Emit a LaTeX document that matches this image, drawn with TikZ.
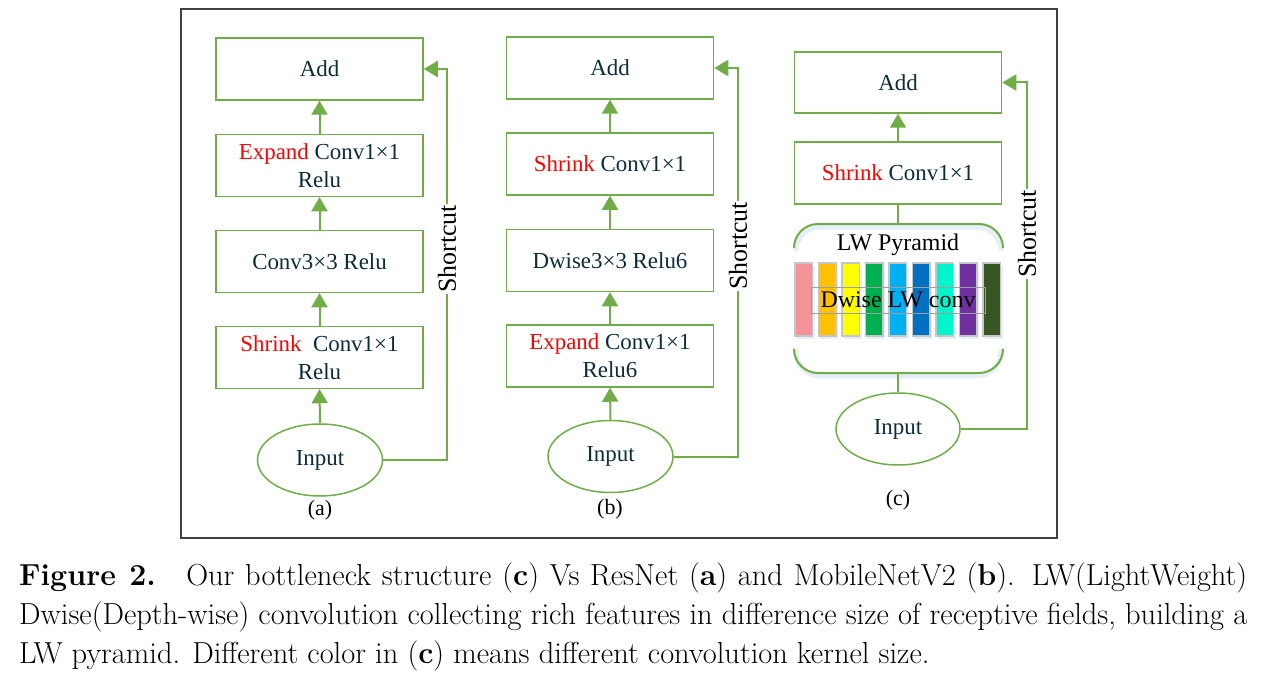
\documentclass[tikz,border=0pt]{standalone}
\usepackage{fontspec}
\newfontfamily\tnr{Liberation Serif}
\usetikzlibrary{arrows.meta,shapes.geometric}
\definecolor{grn}{HTML}{70AD47}
\definecolor{txt}{HTML}{0B2D3A}
\definecolor{frm}{HTML}{404040}
\definecolor{b1}{HTML}{F4939A}
\definecolor{b2}{HTML}{FFC000}
\definecolor{b3}{HTML}{FFFF00}
\definecolor{b4}{HTML}{00B050}
\definecolor{b5}{HTML}{00B0F0}
\definecolor{b6}{HTML}{0070C0}
\definecolor{b7}{HTML}{00F5CC}
\definecolor{b8}{HTML}{7030A0}
\definecolor{b9}{HTML}{375623}
\definecolor{glow}{HTML}{E6EFF8}
\begin{document}
\begin{tikzpicture}[x=1bp,y=-1bp,
  box/.style={draw=grn, line width=1.5bp, minimum width=207bp, minimum height=62bp, align=center, text=txt, font=\tnr\fontsize{23}{28}\selectfont, inner sep=0pt},
  inp/.style={ellipse, draw=grn, line width=1.5bp, minimum width=125bp, minimum height=72bp, text=txt, font=\tnr\fontsize{23}{27}\selectfont, inner sep=0pt},
  arr/.style={draw=grn, line width=2bp, -{Triangle[width=16bp,length=14bp]}},
  ln/.style={draw=grn, line width=2bp},
  sc/.style={rotate=90, fill=white, font=\tnr\fontsize{26}{30}\selectfont, inner sep=1.5bp},
  lab/.style={font=\tnr\fontsize{22}{26}\selectfont, inner sep=0pt},
  captxt/.style={anchor=base west, inner sep=0pt, font=\fontsize{30.5}{36}\selectfont}]
\useasboundingbox[fill=white] (0,0) rectangle (1269,677);
\draw[frm, line width=1.3bp] (181,9) rectangle (1057,538);

% ---------------- (a)
\node[box] (aadd) at (319.5,69) {Add};
\node[box] (aexp) at (319.5,165.5) {\textcolor{red}{Expand} Conv1×1\\Relu};
\node[box] (aconv) at (319.5,261.5) {Conv3×3 Relu};
\node[box] (ashr) at (319.5,357.5) {\textcolor{red}{Shrink}~ Conv1×1\\Relu};
\node[inp] (ain) at (320,460) {Input};
\draw[arr] (ain.north) -- (ashr.south);
\draw[arr] (ashr.north) -- (aconv.south);
\draw[arr] (aconv.north) -- (aexp.south);
\draw[arr] (aexp.north) -- (aadd.south);
\coordinate (ac) at (447,300);
\draw[arr] (ain.east) -| (ac) |- (aadd.east);
\node[sc] (asc) at (447,249) {Shortcut};
\node[lab] (alab) at (320,510) {(a)};

% ---------------- (b)
\node[box] (badd) at (610,68) {Add};
\node[box] (bshr) at (610,164) {\textcolor{red}{Shrink} Conv1×1};
\node[box] (bdw) at (610,260.5) {Dwise3×3 Relu6};
\node[box] (bexp) at (610,356) {\textcolor{red}{Expand} Conv1×1\\Relu6};
\node[inp] (bin) at (610.5,456.5) {Input};
\draw[arr] (bin.north) -- (bexp.south);
\draw[arr] (bexp.north) -- (bdw.south);
\draw[arr] (bdw.north) -- (bshr.south);
\draw[arr] (bshr.north) -- (badd.south);
\coordinate (bc) at (738,300);
\draw[arr] (bin.east) -| (bc) |- (badd.east);
\node[sc] (bsc) at (738,246) {Shortcut};
\node[lab] (blab) at (610,509) {(b)};

% ---------------- (c)
\node[box, minimum height=61bp] (cadd) at (898,82.5) {Add};
\node[box] (cshr) at (898,173) {\textcolor{red}{Shrink} Conv1×1};
\coordinate (ptop) at (898,224);
\coordinate (pbot) at (898,373);
% glow
\draw[glow, line width=5bp, rounded corners=24bp, line cap=round] (796,251) -- (796,227) -- (1001,227) -- (1001,251);
\draw[glow, line width=5bp, rounded corners=24bp, line cap=round] (796,351) -- (796,376) -- (1001,376) -- (1001,351);
\draw[ln, rounded corners=24bp] (794,248) -- (794,224) -- (1003,224) -- (1003,248);
\draw[ln, rounded corners=24bp] (794,349) -- (794,373) -- (1003,373) -- (1003,349);
\node[font=\tnr\fontsize{24}{28}\selectfont, inner sep=0pt] (lwp) at (898,245) {LW Pyramid};
\foreach \c [count=\i from 0] in {b1,b2,b3,b4,b5,b6,b7,b8,b9} {
  \fill[glow] ({796.5+\i*23.5},265.5) rectangle ++(18,73);
  \draw[draw=gray!45, line width=1.2bp, fill=\c] ({795+\i*23.5},263) rectangle ++(17.5,73);
}
\node[draw=gray!75, line width=1bp, minimum width=174bp, minimum height=26bp, inner sep=0pt, font=\tnr\fontsize{24}{28}\selectfont] (dlw) at (898,300) {Dwise LW conv};
\node[inp, minimum width=124bp] (cin) at (898,429) {Input};
\draw[arr] (cshr.north) -- (cadd.south);
\draw[ln] (cshr.south) -- (ptop);
\draw[ln] (pbot) -- (cin.north);
\coordinate (cc) at (1027,300);
\draw[arr] (cin.east) -| (cc) |- (cadd.east);
\node[sc] (csc) at (1027,234) {Shortcut};
\node[lab] (clab) at (898,500) {(c)};

% ---------------- caption
\node[captxt] (cap1) at (19,585) {\makebox[1228bp][s]{\textbf{Figure 2.}\quad Our bottleneck structure (\textbf{c}) Vs ResNet (\textbf{a}) and MobileNetV2 (\textbf{b}). LW(LightWeight)}};
\node[captxt] (cap2) at (19,624) {\makebox[1228bp][s]{Dwise(Depth-wise) convolution collecting rich features in difference size of receptive fields, building a}};
\node[captxt] (cap3) at (19,663) {LW pyramid. Different color in (\textbf{c}) means different convolution kernel size.};
\end{tikzpicture}
\end{document}
